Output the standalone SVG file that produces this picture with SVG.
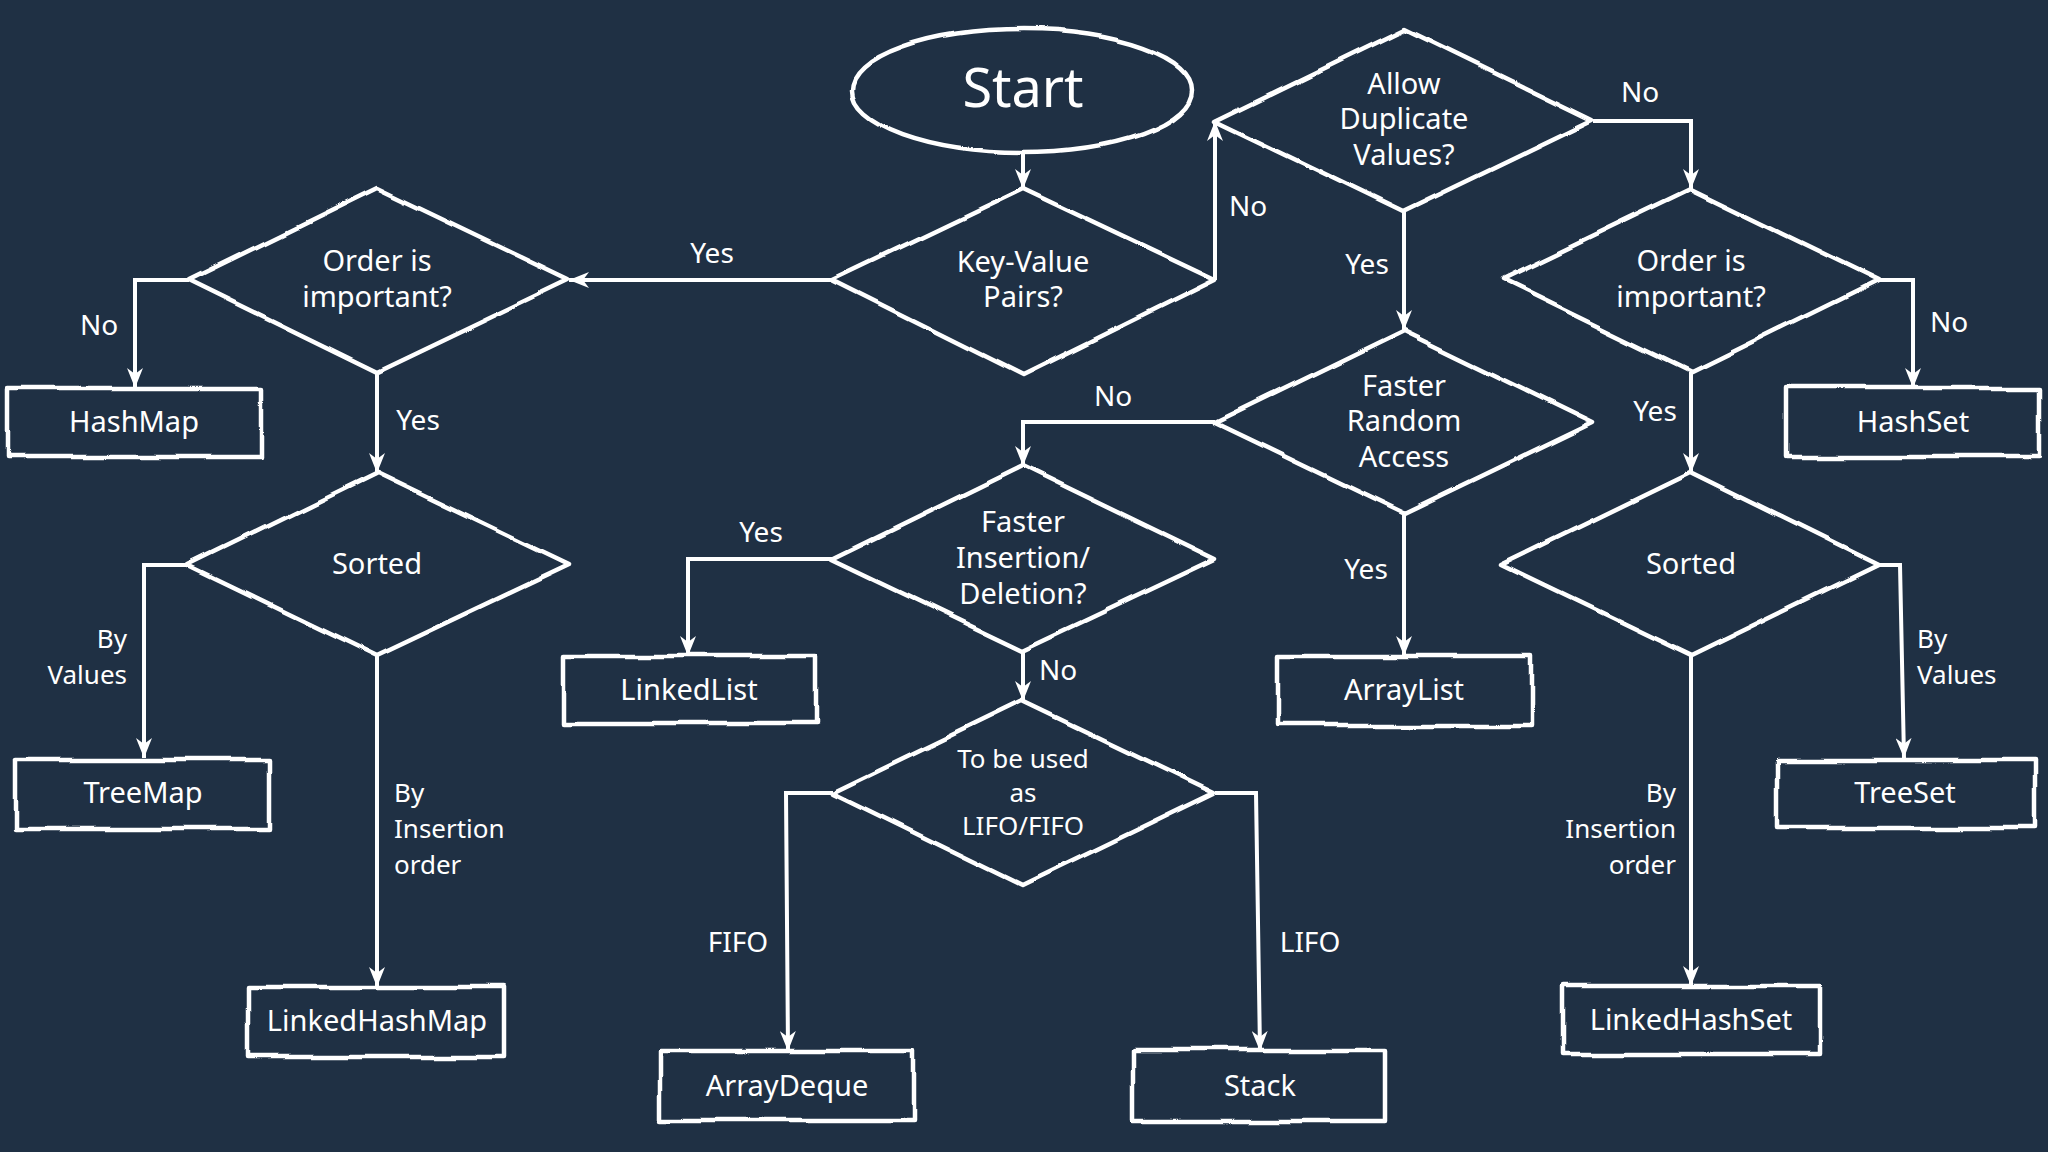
<svg xmlns="http://www.w3.org/2000/svg" width="2048" height="1152" viewBox="0 0 2048 1152">
<style>
.shape{fill:none;stroke:#fff;stroke-width:4.5;stroke-linejoin:round}
.conn{fill:none;stroke:#fff;stroke-width:4}
text{fill:#fff;font-family:"Noto Sans","DejaVu Sans",sans-serif;font-size:29px;text-anchor:middle;dominant-baseline:middle}
.lbl{font-size:28px}
.ml{font-size:26px}
.l{text-anchor:start}
.r{text-anchor:end}
.sm{font-size:26px}
</style>
<defs>
<filter id="rough" filterUnits="userSpaceOnUse" x="0" y="0" width="2048" height="1152">
<feTurbulence type="fractalNoise" baseFrequency="0.012" numOctaves="2" seed="3" result="n"/>
<feDisplacementMap in="SourceGraphic" in2="n" scale="9" xChannelSelector="R" yChannelSelector="G"/>
</filter>
<marker id="arr" viewBox="0 0 20 16" refX="20" refY="8" markerWidth="20" markerHeight="16" markerUnits="userSpaceOnUse" orient="auto">
<path d="M0,0 L20,8 L0,16 L6,8 Z" fill="#fff"/>
</marker>
</defs>
<rect width="2048" height="1152" fill="#1f3044"/>

<g id="connectors">
<path class="conn" marker-end="url(#arr)" d="M1023,154 L1023,189"/>
<path class="conn" marker-end="url(#arr)" d="M833,280 L569,280"/>
<path class="conn" marker-end="url(#arr)" d="M1215,280 L1215,121"/>
<path class="conn" marker-end="url(#arr)" d="M1593,121 L1691,121 L1691,189"/>
<path class="conn" marker-end="url(#arr)" d="M1404,212 L1404,330"/>
<path class="conn" marker-end="url(#arr)" d="M1878,280 L1913,280 L1913,388"/>
<path class="conn" marker-end="url(#arr)" d="M1691,372 L1691,473"/>
<path class="conn" marker-end="url(#arr)" d="M1878,565 L1900,565 L1904,758"/>
<path class="conn" marker-end="url(#arr)" d="M1691,656 L1691,986"/>
<path class="conn" marker-end="url(#arr)" d="M189,280 L135,280 L135,388"/>
<path class="conn" marker-end="url(#arr)" d="M377,372 L377,473"/>
<path class="conn" marker-end="url(#arr)" d="M189,565 L144,565 L144,758"/>
<path class="conn" marker-end="url(#arr)" d="M377,656 L377,987"/>
<path class="conn" marker-end="url(#arr)" d="M1215,422 L1023,422 L1023,466"/>
<path class="conn" marker-end="url(#arr)" d="M1404,513 L1404,656"/>
<path class="conn" marker-end="url(#arr)" d="M833,559 L688,559 L688,656"/>
<path class="conn" marker-end="url(#arr)" d="M1023,650 L1023,701"/>
<path class="conn" marker-end="url(#arr)" d="M833,793 L786,793 L788,1051"/>
<path class="conn" marker-end="url(#arr)" d="M1215,793 L1256,793 L1260,1051"/>
<text class="lbl" x="712" y="255">Yes</text>
<text class="lbl" x="1248" y="208">No</text>
<text class="lbl" x="1640" y="94">No</text>
<text class="lbl" x="1367" y="266">Yes</text>
<text class="lbl" x="1949" y="324">No</text>
<text class="lbl" x="1655" y="413">Yes</text>
<text class="ml l" x="1917" y="641">By<tspan x="1917" dy="36">Values</tspan></text>
<text class="ml r" x="1676" y="795">By<tspan x="1676" dy="36">Insertion</tspan><tspan x="1676" dy="36">order</tspan></text>
<text class="lbl" x="99" y="327">No</text>
<text class="lbl" x="418" y="422">Yes</text>
<text class="ml r" x="127" y="641">By<tspan x="127" dy="36">Values</tspan></text>
<text class="ml l" x="394" y="795">By<tspan x="394" dy="36">Insertion</tspan><tspan x="394" dy="36">order</tspan></text>
<text class="lbl" x="1113" y="398">No</text>
<text class="lbl" x="1366" y="571">Yes</text>
<text class="lbl" x="761" y="534">Yes</text>
<text class="lbl" x="1058" y="672">No</text>
<text class="lbl" x="738" y="944">FIFO</text>
<text class="lbl" x="1310" y="944">LIFO</text>
</g>

<g id="start">
<ellipse class="shape" filter="url(#rough)" cx="1023" cy="91" rx="170" ry="61"/>
<text x="1023" y="93" style="font-size:54px">Start</text>
</g>
<g id="keyvalue">
<path class="shape" filter="url(#rough)" d="M833,280 L1023,189 L1215,280 L1023,375 Z"/>
<text x="1023" y="264">Key-Value<tspan x="1023" dy="35">Pairs?</tspan></text>
</g>
<g id="allowdup">
<path class="shape" filter="url(#rough)" d="M1215,121 L1404,29 L1593,121 L1404,212 Z"/>
<text x="1404" y="86">Allow<tspan x="1404" dy="35">Duplicate</tspan><tspan x="1404" dy="36">Values?</tspan></text>
</g>
<g id="orderL">
<path class="shape" filter="url(#rough)" d="M189,280 L377,188 L569,280 L377,372 Z"/>
<text x="377" y="263">Order is<tspan x="377" dy="36">important?</tspan></text>
</g>
<g id="orderR">
<path class="shape" filter="url(#rough)" d="M1502,280 L1691,189 L1878,280 L1691,372 Z"/>
<text x="1691" y="263">Order is<tspan x="1691" dy="36">important?</tspan></text>
</g>
<g id="sortedL">
<path class="shape" filter="url(#rough)" d="M189,565 L377,473 L569,565 L377,656 Z"/>
<text x="377" y="566">Sorted</text>
</g>
<g id="sortedR">
<path class="shape" filter="url(#rough)" d="M1502,565 L1691,473 L1878,565 L1691,656 Z"/>
<text x="1691" y="566">Sorted</text>
</g>
<g id="fra">
<path class="shape" filter="url(#rough)" d="M1215,422 L1404,330 L1593,422 L1404,513 Z"/>
<text x="1404" y="388">Faster<tspan x="1404" dy="35">Random</tspan><tspan x="1404" dy="36">Access</tspan></text>
</g>
<g id="fid">
<path class="shape" filter="url(#rough)" d="M833,559 L1023,466 L1215,559 L1023,650 Z"/>
<text x="1023" y="524">Faster<tspan x="1023" dy="36">Insertion/</tspan><tspan x="1023" dy="36">Deletion?</tspan></text>
</g>
<g id="lifofifo">
<path class="shape" filter="url(#rough)" d="M833,793 L1023,701 L1215,793 L1023,886 Z"/>
<text class="sm" x="1023" y="761">To be used<tspan x="1023" dy="34">as</tspan><tspan x="1023" dy="33">LIFO/FIFO</tspan></text>
</g>
<g id="hashmap">
<rect class="shape" filter="url(#rough)" x="7" y="388" width="254" height="69"/>
<text x="134" y="424">HashMap</text>
</g>
<g id="treemap">
<rect class="shape" filter="url(#rough)" x="16" y="760" width="254" height="69"/>
<text x="143" y="795">TreeMap</text>
</g>
<g id="linkedhashmap">
<rect class="shape" filter="url(#rough)" x="249" y="987" width="255" height="70"/>
<text x="377" y="1023">LinkedHashMap</text>
</g>
<g id="linkedlist">
<rect class="shape" filter="url(#rough)" x="562" y="656" width="254" height="69"/>
<text x="689" y="692">LinkedList</text>
</g>
<g id="arraylist">
<rect class="shape" filter="url(#rough)" x="1276" y="656" width="255" height="69"/>
<text x="1404" y="692">ArrayList</text>
</g>
<g id="arraydeque">
<rect class="shape" filter="url(#rough)" x="660" y="1051" width="254" height="70"/>
<text x="787" y="1088">ArrayDeque</text>
</g>
<g id="stack">
<rect class="shape" filter="url(#rough)" x="1132" y="1051" width="255" height="70"/>
<text x="1260" y="1088">Stack</text>
</g>
<g id="hashset">
<rect class="shape" filter="url(#rough)" x="1785" y="388" width="255" height="69"/>
<text x="1913" y="424">HashSet</text>
</g>
<g id="treeset">
<rect class="shape" filter="url(#rough)" x="1776" y="760" width="258" height="68"/>
<text x="1905" y="795">TreeSet</text>
</g>
<g id="linkedhashset">
<rect class="shape" filter="url(#rough)" x="1563" y="986" width="256" height="69"/>
<text x="1691" y="1022">LinkedHashSet</text>
</g>
</svg>
